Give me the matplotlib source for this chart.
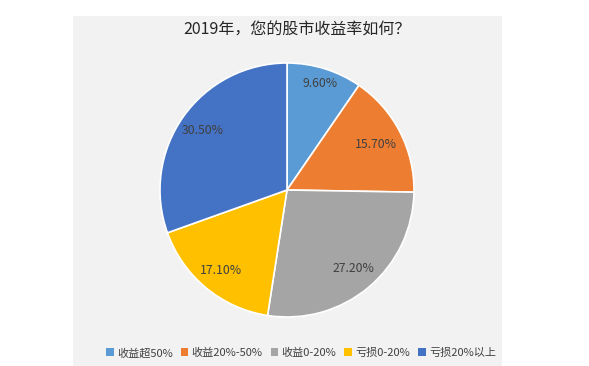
"""
2019 stock return survey pie.
"""

import matplotlib
matplotlib.use("Agg")
import matplotlib.pyplot as plt
from matplotlib.patches import Rectangle
import numpy as np

plt.rcParams["font.family"] = ["Noto Sans CJK SC", "DejaVu Sans"]

title = "2019年，您的股市收益率如何？"
categories = ["收益超50%", "收益20%-50%", "收益0-20%", "亏损0-20%", "亏损20%以上"]
shares = [9.6, 15.7, 27.2, 17.1, 30.5]
labels = ["9.60%", "15.70%", "27.20%", "17.10%", "30.50%"]
colors = ["#5B9BD5", "#ED7D31", "#A5A5A5", "#FFC000", "#4472C4"]
label_dist = [0.88, 0.79, 0.81, 0.82, 0.81]

fig = plt.figure(figsize=(5.89, 3.66), dpi=100)
fig.patch.set_facecolor("white")

# grey chart area, kept behind the axes
fig.patches.append(Rectangle((73 / 589, 0), 429 / 589, 350 / 366,
                             transform=fig.transFigure, facecolor="#F2F2F2",
                             edgecolor="none", zorder=-1))

ax = fig.add_axes([160 / 589, 49 / 366, 254 / 589, 254 / 366])
ax.patch.set_alpha(0)
wedges, _ = ax.pie(shares, colors=colors, startangle=90, counterclock=False,
                   wedgeprops=dict(edgecolor="white", linewidth=1.2))
ax.set_xlim(-1, 1)
ax.set_ylim(-1, 1)
ax.set_aspect("equal")

# percentage labels inside the slices
for w, lab, d in zip(wedges, labels, label_dist):
    ang = np.deg2rad((w.theta1 + w.theta2) / 2)
    ax.text(d * np.cos(ang), d * np.sin(ang), lab, ha="center", va="center",
            fontsize=8.8, color="#404040")

fig.text(297 / 589, 1 - 30 / 366, title, ha="center", va="center",
         fontsize=11.5, color="#262626")

handles = [Rectangle((0, 0), 1, 1, facecolor=c) for c in colors]
fig.legend(handles, categories, loc="center", bbox_to_anchor=(301 / 589, 1 - 353 / 366),
           ncol=5, frameon=False, fontsize=8, handlelength=0.7, handleheight=0.7,
           handletextpad=0.3, columnspacing=0.7, labelcolor="#404040")

fig.savefig("out.png", dpi=100)
